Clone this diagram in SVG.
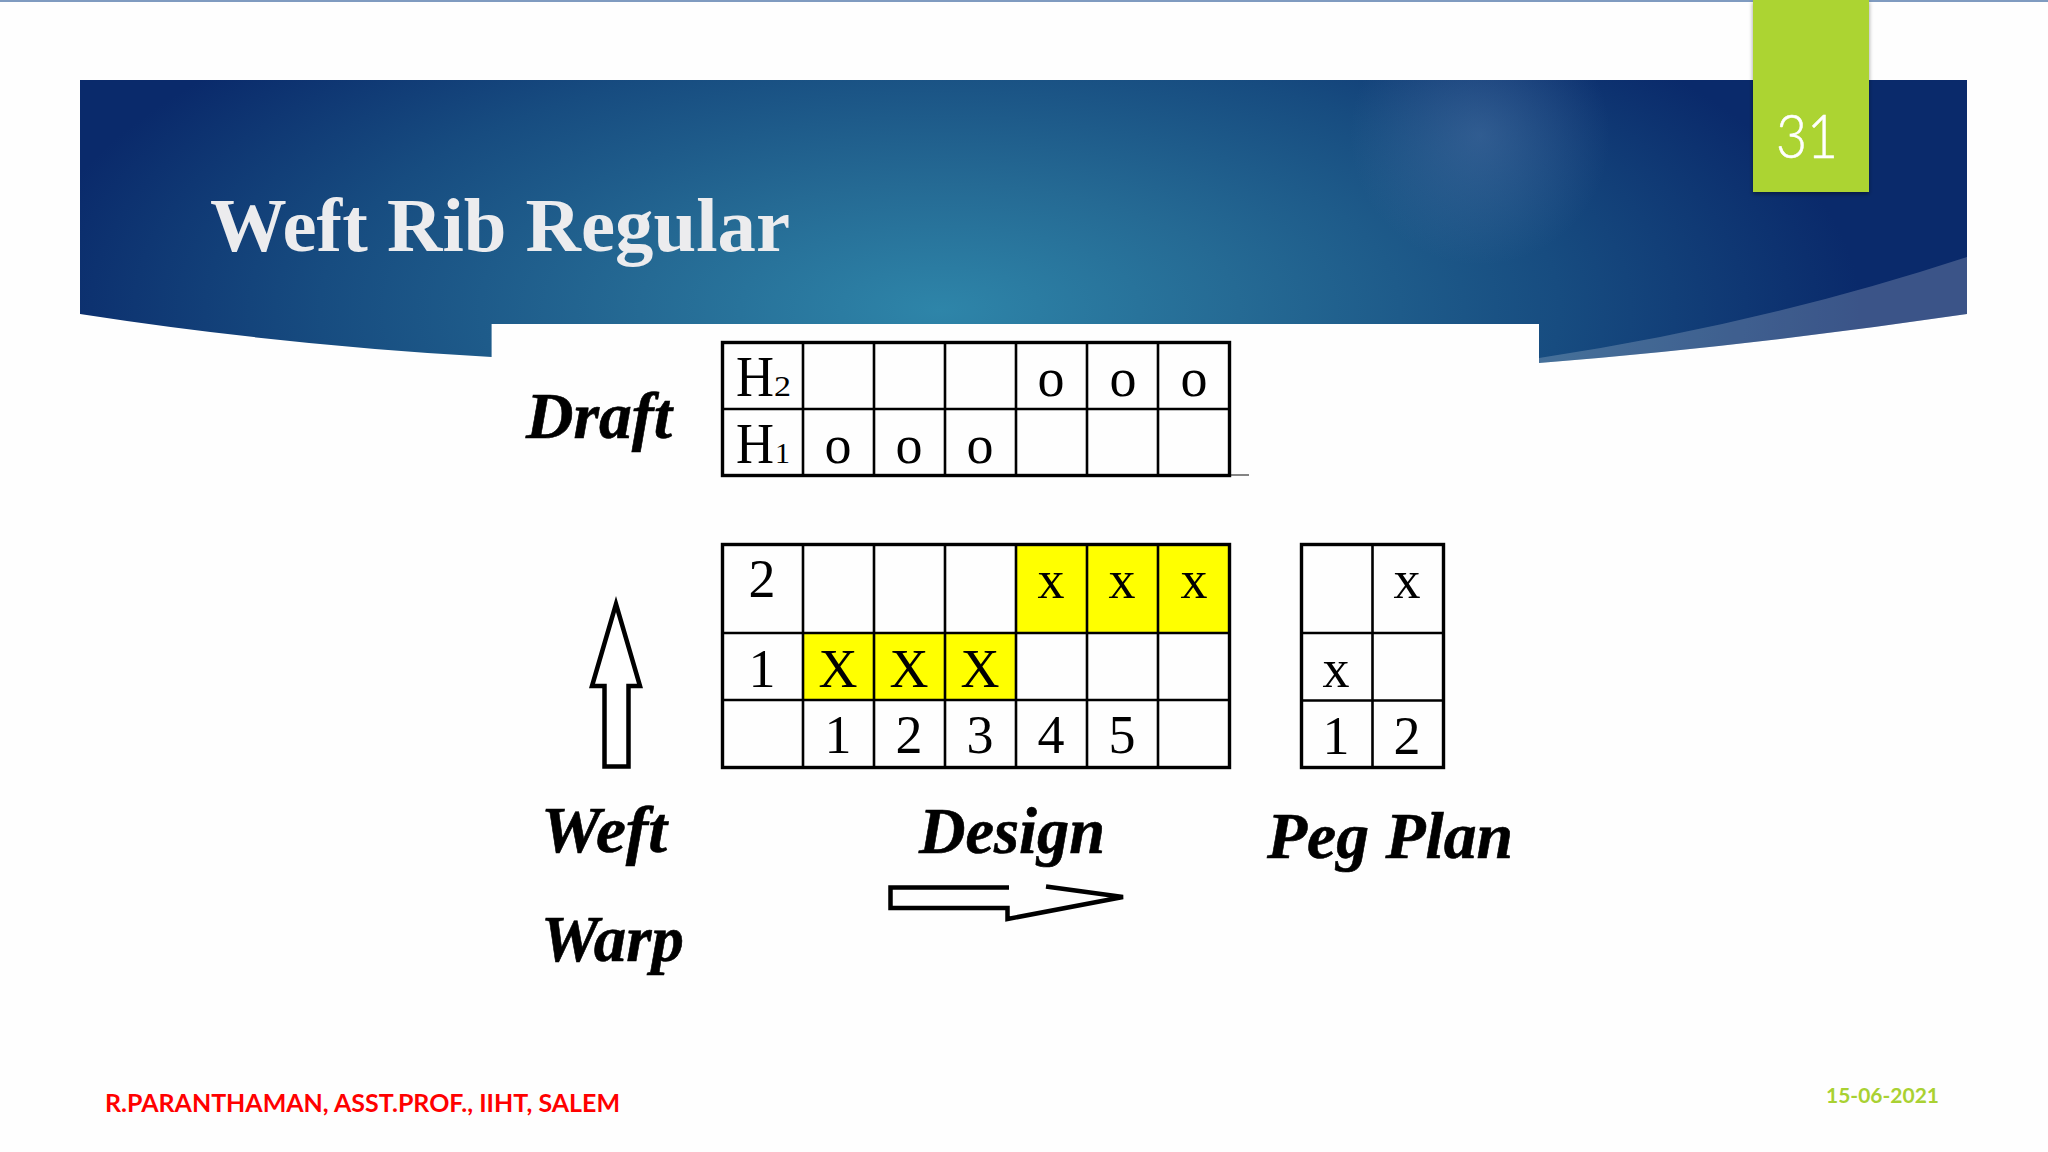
<svg xmlns="http://www.w3.org/2000/svg" width="2048" height="1152" viewBox="0 0 2048 1152">
<defs>
<radialGradient id="bg" gradientUnits="userSpaceOnUse" cx="940" cy="310" r="1000" gradientTransform="translate(940 310) scale(1 0.42) translate(-940 -310)">
<stop offset="0" stop-color="#2e85a9"/><stop offset="0.3" stop-color="#256a94"/><stop offset="0.62" stop-color="#174c80"/><stop offset="0.92" stop-color="#0a2a6b"/>
</radialGradient>
<radialGradient id="glow" gradientUnits="userSpaceOnUse" cx="1480" cy="135" r="130">
<stop offset="0" stop-color="#5a7fb0" stop-opacity="0.4"/><stop offset="1" stop-color="#5a7fb0" stop-opacity="0"/>
</radialGradient>
<filter id="sh" x="-10%" y="-10%" width="120%" height="120%"><feDropShadow dx="0" dy="2" stdDeviation="2" flood-color="#000" flood-opacity="0.4"/></filter>
</defs>
<style>
.t{font-family:"Liberation Serif",serif;fill:#000;text-anchor:middle}
.u{font-family:"Liberation Serif",serif;fill:#000}
.l{font-family:"Liberation Serif",serif;font-weight:bold;font-style:italic;font-size:65px;fill:#000;stroke:#000;stroke-width:0.6}
.o{fill:none;stroke:#000;stroke-width:3.400}
.i{fill:none;stroke:#000;stroke-width:2.600}
.s{font-size:54px}
</style>
<rect width="2048" height="1152" fill="#fefefe"/>
<rect width="2048" height="2" fill="#7f9bc0"/>
<g id="banner">
<path d="M80 80H1967V314Q1750 346 1539 363V324H491.600V357Q280 345 80 314Z" fill="url(#bg)"/>
<path d="M80 80H1967V314Q1750 346 1539 363V324H491.600V357Q280 345 80 314Z" fill="url(#glow)"/>
<path d="M1967 257Q1760 325 1539 358V363Q1750 346 1967 314Z" fill="#fff" fill-opacity="0.2"/>
<text x="210" y="251" font-family="Liberation Serif, serif" font-weight="bold" font-size="76" fill="#ececee" textLength="580" lengthAdjust="spacingAndGlyphs">Weft Rib Regular</text>
</g>
<g id="page-number">
<rect x="1753" y="0" width="116" height="192" fill="#acd433" filter="url(#sh)"/>
<text x="1776" y="158" font-family="Lato, sans-serif" font-weight="300" font-size="62" fill="#fff" stroke="#fff" stroke-width="0.6" textLength="62" lengthAdjust="spacingAndGlyphs">31</text>
</g>
<g id="draft">
<path d="M1229 475H1249" stroke="#333" stroke-width="1.200" fill="none"/>
<rect class="o" x="722.500" y="342.500" width="507" height="133"/>
<path class="i" d="M803 342V476M874 342V476M945 342V476M1016 342V476M1087 342V476M1158 342V476M722 409H1230"/>
<text class="u" x="736" y="396" font-size="56" textLength="38" lengthAdjust="spacingAndGlyphs">H</text><text class="u" x="774" y="396" font-size="30" textLength="17" lengthAdjust="spacingAndGlyphs">2</text>
<text class="u" x="736" y="463" font-size="56" textLength="38" lengthAdjust="spacingAndGlyphs">H</text><text class="u" x="775" y="463" font-size="30" textLength="15" lengthAdjust="spacingAndGlyphs">1</text>
<text class="t s" x="1051" y="396">o</text><text class="t s" x="1123" y="396">o</text><text class="t s" x="1194" y="396">o</text>
<text class="t s" x="838" y="463">o</text><text class="t s" x="909" y="463">o</text><text class="t s" x="980" y="463">o</text>
<text class="l" x="526" y="438" textLength="146" lengthAdjust="spacingAndGlyphs">Draft</text>
</g>
<g id="design">
<rect x="1016" y="544" width="213" height="89" fill="#ffff00"/>
<rect x="803" y="633" width="213" height="67" fill="#ffff00"/>
<rect class="o" x="722.500" y="544.500" width="507" height="223"/>
<path class="i" d="M803 544V768M874 544V768M945 544V768M1016 544V768M1087 544V768M1158 544V768M722 633H1230M722 700H1230"/>
<text class="t s" x="762" y="597">2</text><text class="t s" x="762" y="687">1</text>
<text class="t s" x="1051" y="598">x</text><text class="t s" x="1122" y="598">x</text><text class="t s" x="1194" y="598">x</text>
<text class="t s" x="838" y="687">X</text><text class="t s" x="909" y="687">X</text><text class="t s" x="980" y="687">X</text>
<text class="t s" x="838" y="753">1</text><text class="t s" x="909" y="753">2</text><text class="t s" x="980" y="753">3</text><text class="t s" x="1051" y="753">4</text><text class="t s" x="1122" y="753">5</text>
<text class="l" x="919" y="853" textLength="186" lengthAdjust="spacingAndGlyphs">Design</text>
</g>
<g id="peg-plan">
<rect class="o" x="1301.500" y="544.500" width="142" height="223"/>
<path class="i" d="M1372.500 544V768M1301 633H1444M1301 700.500H1444"/>
<text class="t s" x="1407" y="598">x</text><text class="t s" x="1336" y="687">x</text>
<text class="t s" x="1336" y="754">1</text><text class="t s" x="1407" y="754">2</text>
<text class="l" x="1267" y="858" textLength="246" lengthAdjust="spacingAndGlyphs">Peg Plan</text>
</g>
<g id="connectors">
<path d="M604.500 766.500H628.500V686H640L616 604L592 686H604.500Z" fill="#fff" stroke="#000" stroke-width="4.500" stroke-linejoin="miter"/>
<path d="M1009 887.500H890.500V908H1007.500V919L1123 897L1046 886.500" fill="none" stroke="#000" stroke-width="4.500"/>
</g>
<g id="labels">
<text class="l" x="541" y="852" textLength="126" lengthAdjust="spacingAndGlyphs">Weft</text>
<text class="l" x="541" y="961" textLength="143" lengthAdjust="spacingAndGlyphs">Warp</text>
</g>
<g id="footer">
<text x="105" y="1112" font-family="Lato, sans-serif" font-weight="bold" font-size="25" fill="#ff0000" textLength="515" lengthAdjust="spacingAndGlyphs">R.PARANTHAMAN, ASST.PROF., IIHT, SALEM</text>
<text x="1826" y="1103" font-family="Lato, sans-serif" font-weight="bold" font-size="21" fill="#a9d132" textLength="113" lengthAdjust="spacingAndGlyphs">15-06-2021</text>
</g>
</svg>
